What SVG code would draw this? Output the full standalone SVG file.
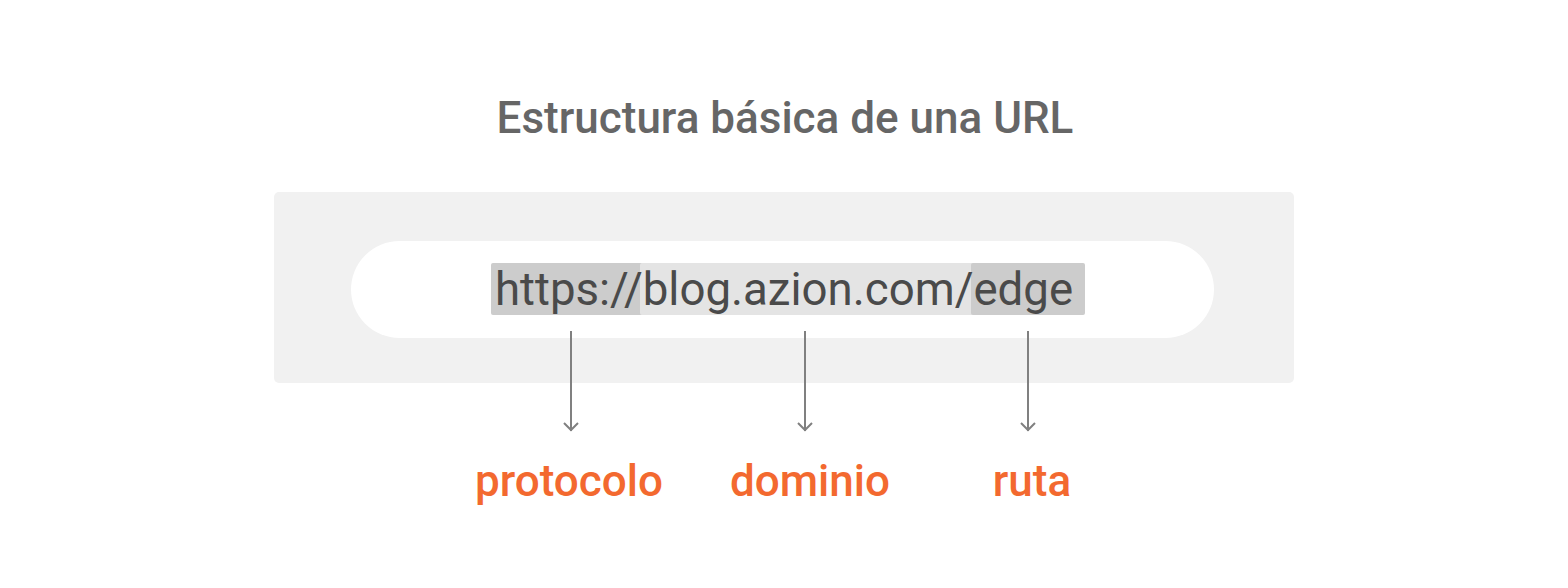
<svg xmlns="http://www.w3.org/2000/svg" width="1568" height="588" viewBox="0 0 1568 588">
<style>
.title{font-family:Roboto,"Liberation Sans",sans-serif;font-weight:500;font-size:44px;fill:#666666}
.url{font-family:Roboto,"Liberation Sans",sans-serif;font-weight:400;font-size:45.6px;fill:#4a4a4a}
.lbl{font-family:Roboto,"Liberation Sans",sans-serif;font-weight:500;font-size:44px;fill:#f3692f}
.conn{stroke:#808080;stroke-width:2;fill:none}
</style>
<defs>
<marker id="ah" viewBox="0 0 10 16" refX="9" refY="8" markerWidth="10" markerHeight="16" markerUnits="userSpaceOnUse" orient="auto">
<path d="M1 1 L8 8 L1 15" fill="none" stroke="#808080" stroke-width="2"/>
</marker>
</defs>
<rect width="1568" height="588" fill="#ffffff"/>
<text class="title" x="785" y="133" text-anchor="middle">Estructura básica de una URL</text>
<g id="panel">
<rect x="274" y="192" width="1020" height="191" rx="5" fill="#f1f1f1"/>
<rect x="351" y="241" width="863" height="97" rx="48.5" fill="#ffffff"/>
</g>
<g id="url">
<rect id="hl-protocol" x="491" y="263" width="152" height="52" rx="2" fill="#cccccc"/>
<rect id="hl-domain" x="640" y="263" width="334" height="52" rx="2" fill="#e4e4e4"/>
<rect id="hl-path" x="971" y="263" width="114" height="52" rx="2" fill="#cccccc"/>
<text class="url" x="495" y="305">https://blog.azion.com/edge</text>
</g>
<g id="connectors">
<line class="conn" x1="571" y1="331" x2="571" y2="431" marker-end="url(#ah)"/>
<line class="conn" x1="805" y1="331" x2="805" y2="431" marker-end="url(#ah)"/>
<line class="conn" x1="1028" y1="331" x2="1028" y2="431" marker-end="url(#ah)"/>
</g>
<g id="protocolo"><text class="lbl" x="569" y="496" text-anchor="middle">protocolo</text></g>
<g id="dominio"><text class="lbl" x="810" y="496" text-anchor="middle">dominio</text></g>
<g id="ruta"><text class="lbl" x="1032" y="496" text-anchor="middle">ruta</text></g>
</svg>
